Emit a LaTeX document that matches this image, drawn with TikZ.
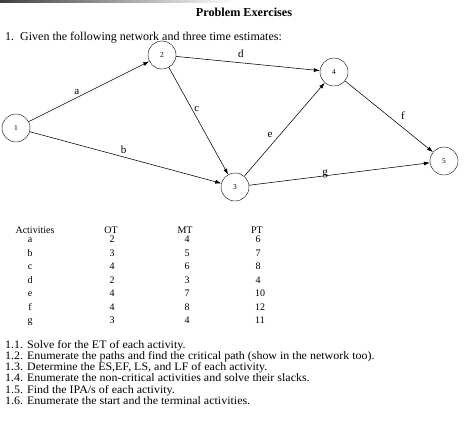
\documentclass[tikz,border=0pt]{standalone}
\usepackage{fontspec}
\setmainfont{Liberation Serif}
\newfontfamily\widefont[FakeStretch=1.05]{Liberation Serif}
\usepackage{xcolor}
\usetikzlibrary{positioning, arrows.meta}

\begin{document}
\begin{tikzpicture}[x=1pt, y=-1pt,
        event/.style={circle, draw, thin, minimum size=28pt, inner sep=0pt, font=\fontsize{7.5}{8}\selectfont},
        act/.style={-{Latex[length=6pt, width=4pt]}, line width=0.55pt},
        lbl/.style={font=\fontsize{11}{12}\selectfont, inner sep=2pt},
        cell/.style={font=\fontsize{10}{12}\selectfont, anchor=base},
        txt/.style={font=\fontsize{12}{13}\selectfont, anchor=base west, inner sep=0pt},
        qtxt/.style={font=\widefont\fontsize{11.4}{12}\selectfont, anchor=base west, inner sep=0pt}]
        \useasboundingbox (0,0) rectangle (474,437);
        % Scan shade along the top edge
        \shade[left color=black!75, right color=white] (0,0) rectangle (235,2);

        % Heading
        \node[font=\bfseries\fontsize{12.2}{13}\selectfont, anchor=base] (title) at (244,16) {Problem Exercises};
        \node[txt] (given) at (5,40) {1.\hspace{6pt}Given the following network and three time estimates:};

        % Events
        \node[event] (n1) at (16,128) {1};
        \node[event] (n2) at (162,55) {2};
        \node[event] (n3) at (235,187) {3};
        \node[event] (n4) at (334,72) {4};
        \node[event] (n5) at (444,161) {5};

        % Activities
        \draw[act] (n1) -- node[lbl, pos=0.4, above=1pt] {a} (n2);
        \draw[act] (n1) -- node[lbl, pos=0.49, above=1.5pt] {b} (n3);
        \draw[act] (n2) -- node[lbl, pos=0.39, right=0pt] {c} (n3);
        \draw[act] (n2) -- node[lbl, pos=0.45, above=3pt] {d} (n4);
        \draw[act] (n3) -- node[lbl, pos=0.44, left=5pt] {e} (n4);
        \draw[act] (n4) -- node[lbl, pos=0.6, above right=2pt and 1pt] {f} (n5);
        \draw[act] (n3) -- node[lbl, pos=0.42, above=-4pt] {g} (n5);

        % Table of time estimates
        \node[cell] (hact) at (35,233) {Activities};
        \node[cell] (hot) at (111,233) {OT};
        \node[cell] (hmt) at (185,233) {MT};
        \node[cell] (hpt) at (257,233) {PT};

        \node[cell] (a0) at (30,242.5) {a}; \node[cell] (a1) at (112,242.5) {2}; \node[cell] (a2) at (187,242.5) {4}; \node[cell] (a3) at (258,242.5) {6};
        \node[cell] (b0) at (30,256) {b}; \node[cell] (b1) at (112,256) {3}; \node[cell] (b2) at (187,256) {5}; \node[cell] (b3) at (258,256) {7};
        \node[cell] (c0) at (30,269.5) {c}; \node[cell] (c1) at (112,269.5) {4}; \node[cell] (c2) at (187,269.5) {6}; \node[cell] (c3) at (258,269.5) {8};
        \node[cell] (d0) at (30,283) {d}; \node[cell] (d1) at (112,283) {2}; \node[cell] (d2) at (187,283) {3}; \node[cell] (d3) at (258,283) {4};
        \node[cell] (e0) at (30,296.5) {e}; \node[cell] (e1) at (112,296.5) {4}; \node[cell] (e2) at (187,296.5) {7}; \node[cell] (e3) at (260,296.5) {10};
        \node[cell] (f0) at (30,310) {f}; \node[cell] (f1) at (112,310) {4}; \node[cell] (f2) at (187,310) {8}; \node[cell] (f3) at (260,310) {12};
        \node[cell] (g0) at (30,323.5) {g}; \node[cell] (g1) at (112,323.5) {3}; \node[cell] (g2) at (187,323.5) {4}; \node[cell] (g3) at (260,323.5) {11};

        % Questions
        \node[qtxt] (q1) at (5,348.5) {1.1. Solve for the ET of each activity.};
        \node[qtxt] (q2) at (5,359.6) {1.2. Enumerate the paths and find the critical path (show in the network too).};
        \node[qtxt] (q3) at (5,370.8) {1.3. Determine the ES,EF, LS, and LF of each activity.};
        \node[qtxt] (q4) at (5,381.9) {1.4. Enumerate the non-critical activities and solve their slacks.};
        \node[qtxt] (q5) at (5,393.1) {1.5. Find the IPA/s of each activity.};
        \node[qtxt] (q6) at (5,404.2) {1.6. Enumerate the start and the terminal activities.};
\end{tikzpicture}
\end{document}
